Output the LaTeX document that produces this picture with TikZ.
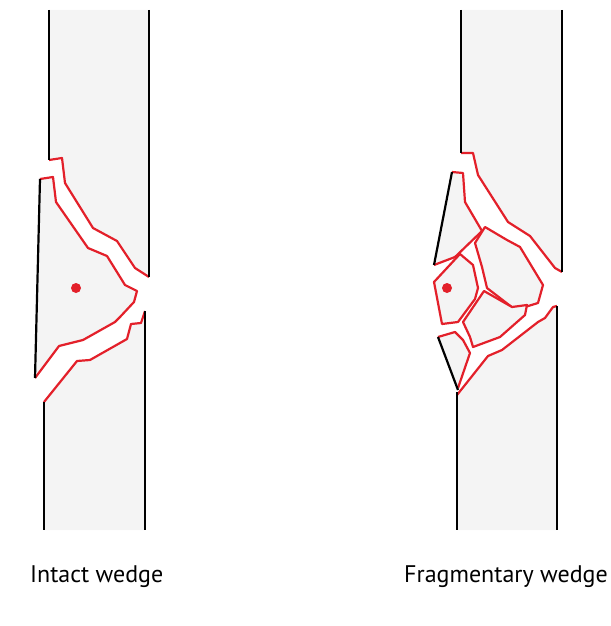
\documentclass[tikz,border=0pt]{standalone}
\usepackage{fontspec}
\setmainfont{PT Sans}
\begin{document}
\begin{tikzpicture}[x=1pt,y=-1pt,
  frag/.style={fill=gfill,draw=none},
  crack/.style={draw=cred,line width=2.2pt,line join=round},
  edge/.style={draw=black,line width=2.2pt},
  lbl/.style={font=\fontsize{24}{28}\selectfont,anchor=west,inner sep=0pt}]
\definecolor{gfill}{HTML}{F4F4F4}
\definecolor{cred}{HTML}{E3202A}
\useasboundingbox (0,0) rectangle (610,626);
% ---- Intact wedge ----
\fill[gfill] (49,10) -- (149,10) -- (149,277) -- (135,268) -- (117,241) -- (93,228) -- (65,183) -- (62,158) -- (49,160) -- cycle;
\draw[crack] (49,160) -- (62,158) -- (65,183) -- (93,228) -- (117,241) -- (135,268) -- (149,277);
\draw[edge] (49,10) -- (49,160) (149,10) -- (149,277);
\fill[gfill] (40,179) -- (53,177) -- (56,202) -- (88,248) -- (107,256) -- (125,285) -- (137,291) -- (134,302) -- (120,317) -- (115,322) -- (83,340) -- (59,346) -- (35,378) -- cycle;
\draw[crack] (40,179) -- (53,177) -- (56,202) -- (88,248) -- (107,256) -- (125,285) -- (137,291) -- (134,302) -- (120,317) -- (115,322) -- (83,340) -- (59,346) -- (35,378);
\draw[edge] (40,179) -- (35,378);
\fill[cred] (76,288) circle (5);
\fill[gfill] (44,402) -- (77,361) -- (90,360) -- (127,339) -- (131,324) -- (141,323) -- (145,311) -- (145,530) -- (44,530) -- cycle;
\draw[crack] (44,402) -- (77,361) -- (90,360) -- (127,339) -- (131,324) -- (141,323) -- (145,311);
\draw[edge] (44,402) -- (44,530) (145,311) -- (145,530);
\node[lbl] (l1) at (30,577) {Intact wedge};
% ---- Fragmentary wedge ----
\fill[gfill] (461,10) -- (562,10) -- (562,272) -- (555,268) -- (530,236) -- (508,222) -- (478,175) -- (473,153) -- (461,153) -- cycle;
\draw[crack] (461,153) -- (473,153) -- (478,175) -- (508,222) -- (530,236) -- (555,268) -- (562,272);
\draw[edge] (461,10) -- (461,153) (562,10) -- (562,272);
% top-left fragment
\fill[gfill] (452,172) -- (463,173) -- (465,202) -- (482,231) -- (455,257) -- (434,265) -- cycle;
\draw[crack] (452,172) -- (463,173) -- (465,202) -- (482,231) -- (455,257) -- (434,265);
\draw[edge] (434,265) -- (452,172);
% dot fragment
\filldraw[crack,fill=gfill] (434,282) -- (460,254) -- (473,265) -- (478,288) -- (475,299) -- (458,322) -- (442,324) -- cycle;
\fill[cred] (447,288) circle (5);
% center fragment
\filldraw[crack,fill=gfill] (475,243) -- (485,227) -- (507,240) -- (520,247) -- (543,285) -- (538,303) -- (525,307) -- (513,308) -- (487,288) -- (482,267) -- cycle;
% lower-center fragment
\filldraw[crack,fill=gfill] (484,291) -- (512,307) -- (527,305) -- (525,315) -- (500,337) -- (473,347) -- (470,337) -- (463,322) -- cycle;
% lower-left fragment
\fill[gfill] (438,337) -- (455,332) -- (463,340) -- (470,353) -- (458,388) -- cycle;
\draw[crack] (438,337) -- (455,332) -- (463,340) -- (470,353) -- (458,388);
\draw[edge] (438,337) -- (458,390);
% lower shaft
\fill[gfill] (457,395) -- (488,356) -- (502,350) -- (538,322) -- (545,318) -- (553,307) -- (557,306) -- (557,530) -- (457,530) -- cycle;
\draw[crack] (457,395) -- (488,356) -- (502,350) -- (538,322) -- (545,318) -- (553,307) -- (557,306);
\draw[edge] (457,392) -- (457,530) (557,306) -- (557,530);
\node[lbl] (l2) at (404,577) {Fragmentary wedge};
\end{tikzpicture}
\end{document}
